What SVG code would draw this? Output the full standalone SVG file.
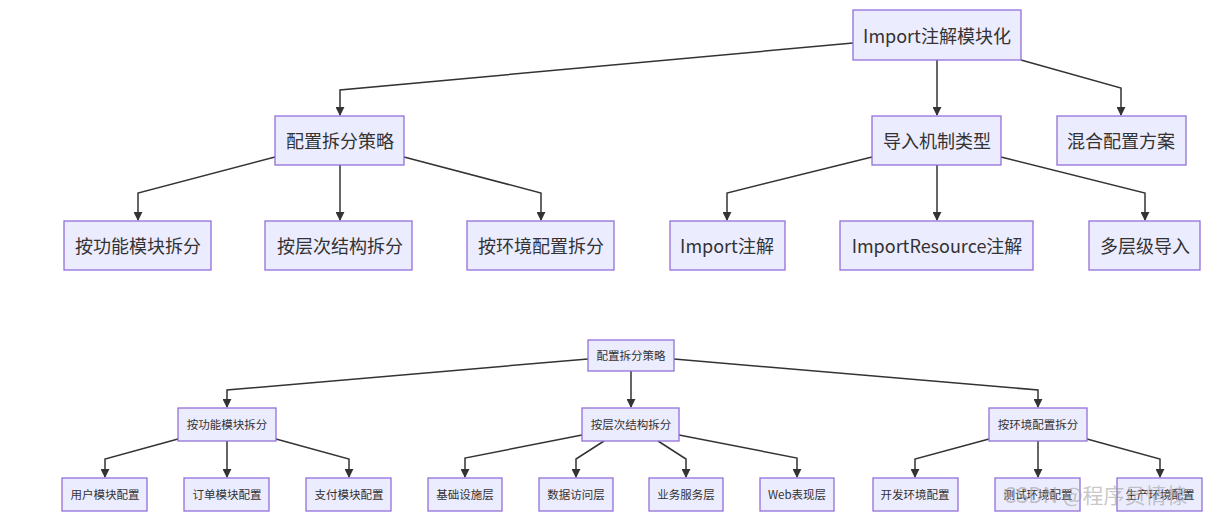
<svg xmlns="http://www.w3.org/2000/svg" width="1223" height="516" viewBox="0 0 1223 516">
<style>
.n rect{fill:#ECECFF;stroke:#9370DB;stroke-width:1.3}
.n text{font-family:"Noto Sans CJK SC","Liberation Sans",sans-serif;fill:#333;text-anchor:middle;dominant-baseline:central}
.big text{font-size:18px}
.sm text{font-size:11.5px}
.e path{fill:none;stroke:#333;stroke-width:1.5;marker-end:url(#a)}
.wm{font-family:"Noto Sans CJK SC","Liberation Sans",sans-serif;font-size:21px;fill:#999;fill-opacity:0.55}
</style>
<defs><marker id="a" viewBox="0 0 10 10" refX="9" refY="5" markerWidth="6" markerHeight="6" orient="auto"><path d="M0,0L10,5L0,10z" fill="#333"/></marker></defs>
<rect width="1223" height="516" fill="#fff"/>
<g class="e">
<path d="M853,43L340,90L340,115"/>
<path d="M937,60L937,115"/>
<path d="M1021,60L1121,88L1121,115"/>
<path d="M275,157L138,193L138,220"/>
<path d="M340,165L340,220"/>
<path d="M404,157L541,193L541,220"/>
<path d="M872,157L727,193L727,220"/>
<path d="M937,165L937,220"/>
<path d="M1001,157L1145,193L1145,220"/>
<path d="M588,359L227,390L227,407"/>
<path d="M631,371L631,407"/>
<path d="M674,359L1038,390L1038,407"/>
<path d="M178,439L105,459L105,477"/>
<path d="M227,441L227,477"/>
<path d="M276,439L349,459L349,477"/>
<path d="M582,435L465,458L465,477"/>
<path d="M604,441L576,459L576,477"/>
<path d="M658,441L686,459L686,477"/>
<path d="M679,435L797,458L797,477"/>
<path d="M989,439L915,459L915,477"/>
<path d="M1038,441L1038,477"/>
<path d="M1087,439L1160,459L1160,477"/>
</g>
<g class="n big">
<g id="root"><rect x="853" y="10" width="168" height="50"/><text x="937" y="35">Import注解模块化</text></g>
<g id="split"><rect x="275" y="116" width="129" height="49"/><text x="340" y="140">配置拆分策略</text></g>
<g id="mech"><rect x="872" y="116" width="129" height="49"/><text x="937" y="140">导入机制类型</text></g>
<g id="mix"><rect x="1057" y="116" width="129" height="49"/><text x="1121" y="140">混合配置方案</text></g>
<g id="func"><rect x="64" y="221" width="147" height="49"/><text x="138" y="245">按功能模块拆分</text></g>
<g id="layer"><rect x="265" y="221" width="147" height="49"/><text x="340" y="245">按层次结构拆分</text></g>
<g id="env"><rect x="467" y="221" width="147" height="49"/><text x="541" y="245">按环境配置拆分</text></g>
<g id="imp"><rect x="670" y="221" width="115" height="49"/><text x="727" y="245">Import注解</text></g>
<g id="impres"><rect x="840" y="221" width="193" height="49"/><text x="937" y="245">ImportResource注解</text></g>
<g id="multi"><rect x="1089" y="221" width="111" height="49"/><text x="1145" y="245">多层级导入</text></g>
</g>
<g class="n sm">
<g id="b-root"><rect x="588" y="340" width="86" height="31"/><text x="631" y="355">配置拆分策略</text></g>
<g id="b-func"><rect x="178" y="408" width="98" height="33"/><text x="227" y="424">按功能模块拆分</text></g>
<g id="b-layer"><rect x="582" y="408" width="97" height="33"/><text x="631" y="424">按层次结构拆分</text></g>
<g id="b-env"><rect x="989" y="408" width="98" height="33"/><text x="1038" y="424">按环境配置拆分</text></g>
<g id="b-user"><rect x="62" y="478" width="85" height="33"/><text x="105" y="494">用户模块配置</text></g>
<g id="b-order"><rect x="184" y="478" width="85" height="33"/><text x="227" y="494">订单模块配置</text></g>
<g id="b-pay"><rect x="306" y="478" width="85" height="33"/><text x="349" y="494">支付模块配置</text></g>
<g id="b-infra"><rect x="428" y="478" width="74" height="33"/><text x="465" y="494">基础设施层</text></g>
<g id="b-data"><rect x="539" y="478" width="74" height="33"/><text x="576" y="494">数据访问层</text></g>
<g id="b-svc"><rect x="649" y="478" width="74" height="33"/><text x="686" y="494">业务服务层</text></g>
<g id="b-web"><rect x="760" y="478" width="74" height="33"/><text x="797" y="494">Web表现层</text></g>
<g id="b-dev"><rect x="873" y="478" width="85" height="33"/><text x="915" y="494">开发环境配置</text></g>
<g id="b-test"><rect x="995" y="478" width="85" height="33"/><text x="1038" y="494">测试环境配置</text></g>
<g id="b-prod"><rect x="1117" y="478" width="85" height="33"/><text x="1160" y="494">生产环境配置</text></g>
</g>
<text class="wm" x="1003" y="503">CSDN @程序员情棣</text>
</svg>
